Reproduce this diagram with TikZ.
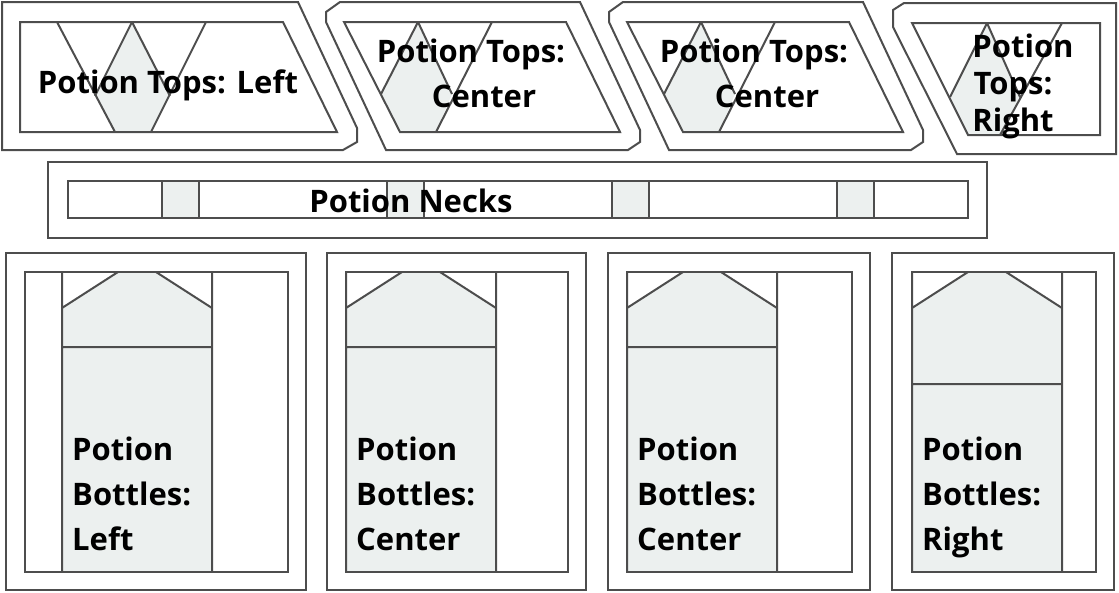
\documentclass[tikz,border=0pt]{standalone}
\usepackage{fontspec}
\setmainfont{Open Sans}
\definecolor{shc}{RGB}{236,240,239}
\definecolor{lnc}{RGB}{77,77,77}
\begin{document}
\begin{tikzpicture}[x=1pt,y=-1pt,
  ln/.style={draw=lnc,line width=2pt,line join=miter},
  sh/.style={fill=shc},
  lbl/.style={font=\bfseries\fontsize{31}{40}\selectfont,inner sep=0pt}]
\useasboundingbox (0,0) rectangle (1119,592);
% ---------- top piece 1
\fill[sh] (132,22)--(170,96)--(151,132)--(115,132)--(95,96)--cycle;
\draw[ln] (2,2)--(298,2)--(357,128)--(357,142)--(343,150)--(2,150)--cycle;
\draw[ln] (20,22)--(283,22)--(337,132)--(20,132)--cycle;
\draw[ln] (57,22)--(115,132) (132,22)--(95,96) (132,22)--(170,96) (206,22)--(151,132);
\node[lbl,anchor=base] (t1) at (168,93) {Potion Tops: Left};
% ---------- top pieces 2 and 3
\foreach \o/\n in {0/a,283/b}{
\begin{scope}[xshift=\o]
\fill[sh] (418,22)--(452,94)--(436,132)--(399,132)--(381,94)--cycle;
\draw[ln] (326,12)--(340,2)--(580,2)--(640,130)--(640,142)--(628,150)--(386,150)--(326,22)--cycle;
\draw[ln] (344,22)--(566,22)--(620,132)--(400,132)--cycle;
\draw[ln] (418,22)--(381,94) (418,22)--(452,94) (492,22)--(436,132);
\node[lbl,anchor=base] (t2\n) at (471,62) {Potion Tops:};
\node[lbl,anchor=base] (t3\n) at (484,107) {Center};
\end{scope}}
% ---------- top piece 4
\fill[sh] (987,23)--(1020,97)--(1000,135)--(968,135)--(950,97)--cycle;
\draw[ln] (893,10)--(904,3)--(1116,3)--(1116,154)--(957,154)--(893,27)--cycle;
\draw[ln] (912,23)--(1100,23)--(1100,135)--(968,135)--cycle;
\draw[ln] (987,23)--(950,97) (987,23)--(1020,97) (1062,23)--(1000,135);
\node[lbl,anchor=base] (r1) at (1023,57) {Potion};
\node[lbl,anchor=base] (r2) at (1013,94) {Tops:};
\node[lbl,anchor=base] (r3) at (1013,131) {Right};
% ---------- necks
\draw[ln] (48,162) rectangle (987,238);
\foreach \x in {162,387,612,837}{\fill[sh] (\x,181) rectangle (\x+37,218);
  \draw[ln] (\x,181)--(\x,218) (\x+37,181)--(\x+37,218);}
\draw[ln] (68,181) rectangle (968,218);
\node[lbl,anchor=base] (nk) at (411,212) {Potion Necks};
% ---------- bottles
\foreach \ox/\oy/\ex/\ix/\iy/\bx/\dv/\w/\n in {6/253/306/25/272/62/347/Left/a,327/253/586/346/272/346/347/Center/b,608/253/870/627/272/627/347/Center/c,892/253/1114/912/272/912/384/Right/d}{
\draw[ln] (\ox,\oy) rectangle (\ex,590);
\fill[sh] (\bx,308)--(\bx+56,272)--(\bx+94,272)--(\bx+150,308)--(\bx+150,572)--(\bx,572)--cycle;
\draw[ln] (\bx,308)--(\bx+56,272) (\bx+94,272)--(\bx+150,308) (\bx,\dv)--(\bx+150,\dv)
  (\bx,272)--(\bx,572) (\bx+150,272)--(\bx+150,572);
\draw[ln] (\ix,272) rectangle (\ex-18,572);
\node[lbl,anchor=base west] (p\n) at (\bx+10,460) {Potion};
\node[lbl,anchor=base west] (q\n) at (\bx+10,505) {Bottles:};
\node[lbl,anchor=base west] (s\n) at (\bx+10,550) {\w};
}
\end{tikzpicture}
\end{document}
